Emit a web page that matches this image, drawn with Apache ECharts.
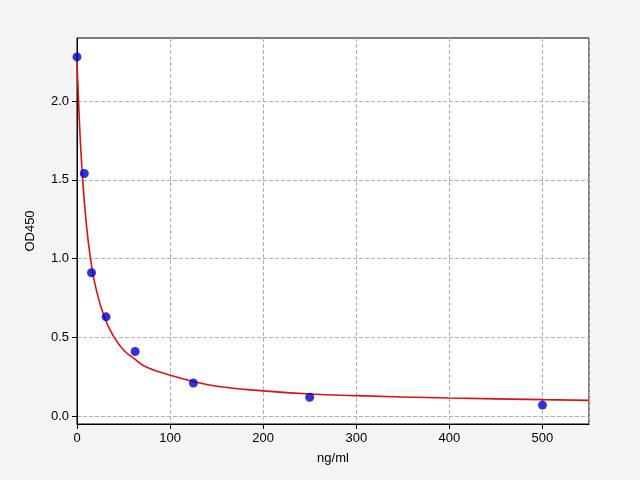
<!DOCTYPE html><html><head><meta charset="utf-8">
<script src="https://cdn.jsdelivr.net/npm/echarts@6/dist/echarts.min.js"></script>
<style>body{margin:0;background:#f4f4f4}#c{width:640px;height:480px}</style></head><body><div id="c"></div>
<script>
const concX=[0,7.8,15.6,31.25,62.5,125,250,500];
const odY=[2.28,1.54,0.91,0.63,0.41,0.21,0.12,0.07];
const fitX=[0,2,5,10,15,20,30,40,50,62.5,75,100,125,150,200,250,300,400,500,550];
const fitY=[2.25,1.95,1.6,1.22,0.98,0.82,0.62,0.5,0.42,0.36,0.31,0.26,0.22,0.19,0.16,0.14,0.13,0.115,0.105,0.1];
const chart=echarts.init(document.getElementById('c'));
const ax={show:true,onZero:false,lineStyle:{color:'#000'}};
chart.setOption({
 backgroundColor:'#f4f4f4',
 grid:{left:77,right:51,top:38,bottom:56,show:true,backgroundColor:'#fff',borderColor:'#000',borderWidth:1},
 xAxis:{type:'value',min:0,max:550,interval:100,name:'ng/ml',nameLocation:'middle',nameGap:28,
  nameTextStyle:{color:'#000',fontSize:13},axisLine:ax,axisTick:{show:true,lineStyle:{color:'#000'}},
  axisLabel:{color:'#000',fontSize:13,showMaxLabel:false},splitLine:{lineStyle:{type:'dashed',color:'#b0b0b0'}}},
 yAxis:{type:'value',min:-0.05,max:2.4,name:'OD450',nameLocation:'middle',nameGap:40,
  nameTextStyle:{color:'#000',fontSize:13},axisLine:ax,
  axisLabel:{color:'#000',fontSize:13,customValues:[0,0.5,1,1.5,2],formatter:v=>v.toFixed(1)},
  axisTick:{show:true,customValues:[0,0.5,1,1.5,2],lineStyle:{color:'#000'}},
  splitLine:{lineStyle:{type:'dashed',color:'#b0b0b0'}}},
 series:[
  {type:'line',data:fitX.map((x,i)=>[x,fitY[i]]),smooth:true,showSymbol:false,lineStyle:{color:'#e01010',width:1.6},z:2},
  {type:'scatter',data:concX.map((x,i)=>[x,odY[i]]),symbolSize:9,itemStyle:{color:'#0000cc'},z:3}
 ]
});
</script></body></html>
